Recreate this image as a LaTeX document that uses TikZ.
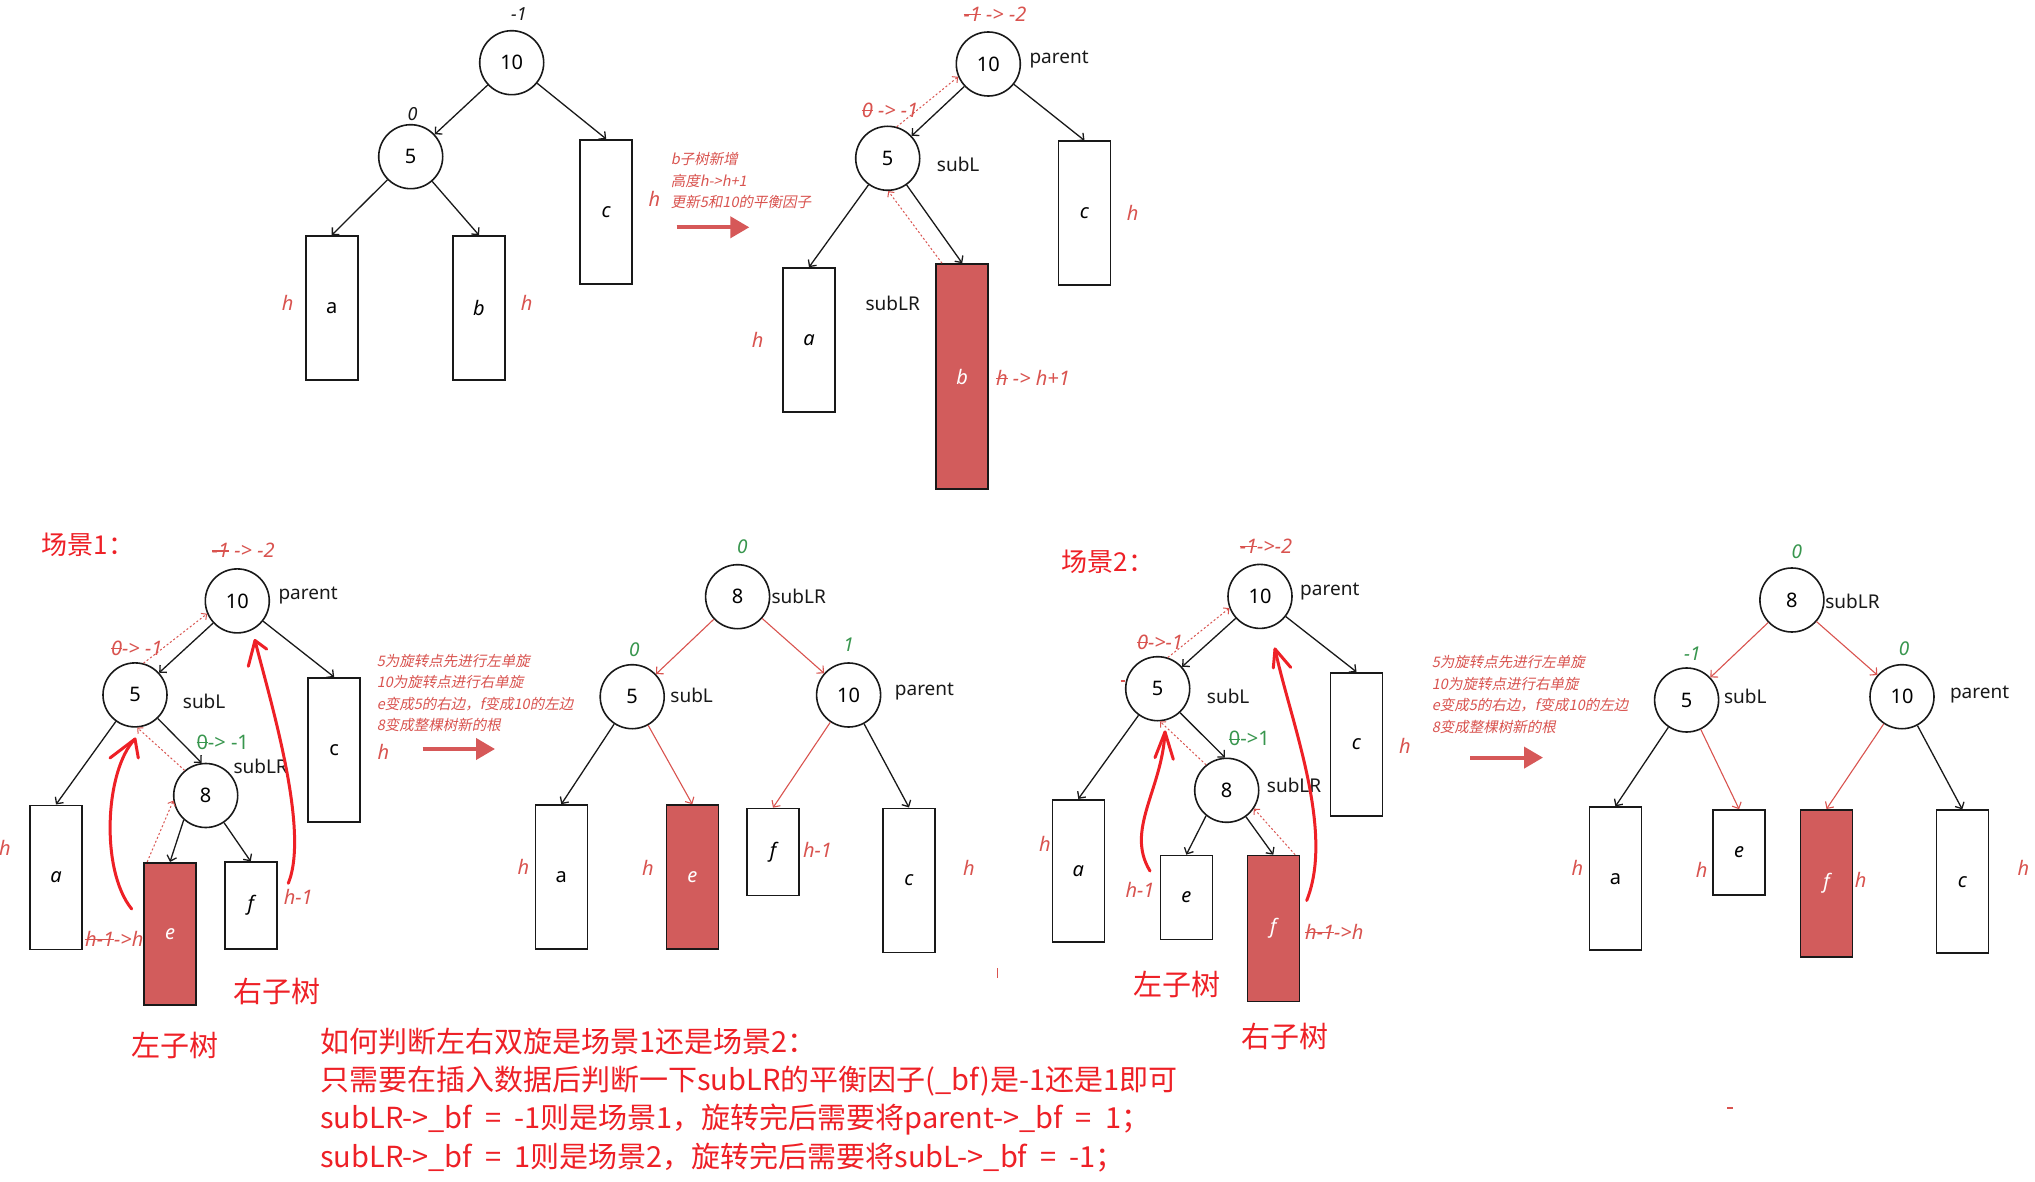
\documentclass[tikz,border=0pt]{standalone}
\usepackage{fontspec}
\setmainfont{Noto Sans}
\newfontfamily\cjk{Noto Sans CJK SC}
\newfontfamily\cjkit{Noto Sans CJK SC}[FakeSlant=0.2]
\usetikzlibrary{arrows.meta}
\newsavebox\strkbox
\newcommand\strk[1]{\sbox\strkbox{#1}\rlap{\raisebox{0.3em}{\rule{\wd\strkbox}{1.1pt}}}\usebox\strkbox}
\newcommand\eqsp{\hspace{0.45em}=\hspace{0.45em}}
\definecolor{annred}{RGB}{217,83,79}
\definecolor{handred}{RGB}{238,32,38}
\definecolor{boxred}{RGB}{210,92,92}
\definecolor{arrred}{RGB}{214,88,88}
\definecolor{bfgreen}{RGB}{56,150,78}
\definecolor{ink}{RGB}{25,25,25}
\newcommand\fs[1]{\fontsize{#1}{#1}\selectfont}
\tikzset{
  circ/.style={circle, draw=ink, line width=1.6pt, minimum size=64pt, inner sep=0pt, font=\fs{20}},
  bx/.style={rectangle, draw=ink, line width=1.6pt, inner sep=0pt, minimum width=52pt, font=\fs{20}\itshape},
  rbx/.style={bx, fill=boxred, text=white},
  tall/.style={minimum height=144pt},
  conn/.style={draw=ink, line width=1.3pt, -{Straight Barb[length=5pt,width=10pt]}},
  rconn/.style={draw=annred, line width=1.1pt, -{Straight Barb[length=5pt,width=10pt]}},
  dotarr/.style={draw=annred, line width=1pt, dash pattern=on 2pt off 2.2pt, -{Straight Barb[length=4pt,width=8pt]}},
  handarr/.style={draw=handred, line width=3pt, line cap=round, line join=round},
  bigarrow/.style={draw=arrred, line width=4pt, -{Triangle[length=19pt,width=21pt]}},
  role/.style={font=\fs{19}, text=ink, anchor=west, inner sep=0pt},
  hl/.style={font=\fs{20}\itshape, text=annred, inner sep=0pt},
  ann/.style={font=\fs{20}\itshape, text=annred, inner sep=0pt},
  blk/.style={font=\fs{18}\itshape, text=ink, inner sep=0pt},
  bfv/.style={font=\fs{19}\bfseries\itshape, text=bfgreen, inner sep=0pt},
  bfu/.style={font=\fs{20}\bfseries, text=bfgreen, inner sep=0pt},
  notetxt/.style={font=\cjkit\fontsize{14.5}{21.5}\selectfont, text=annred, align=left, anchor=north west, inner sep=0pt},
  bigtxt/.style={font=\cjk\fs{29}, text=handred, inner sep=0pt},
  scenetxt/.style={font=\cjk\fs{26}, text=handred, inner sep=0pt, anchor=west},
}
\begin{document}
\begin{tikzpicture}[x=1pt,y=-1pt]
\useasboundingbox (0,0) rectangle (2035,1182);
\fill[white] (0,0) rectangle (2035,1182);

% ===== top left tree =====
\node[circ] (t10) at (511.7,62.7) {10};
\node[circ] (t5) at (410.7,156.7) {5};
\node[bx,tall,font=\fs{20}] (ta) at (331.7,308) {a};
\node[bx,tall] (tb) at (479,308) {b};
\node[bx,tall] (tc) at (606.2,211.8) {c};
\node[blk] (tbf10) at (519,14) {-1};
\node[blk] (tbf5) at (412.7,114) {0};
\node[hl] (th1) at (287.7,303.3) {h};
\node[hl] (th2) at (526.7,303.3) {h};
\node[hl] (th3) at (654.3,199.3) {h};
\draw[conn] (t10) -- (t5);
\draw[conn] (t10) -- (tc.north);
\draw[conn] (t5) -- (ta.north);
\draw[conn] (t5) -- (tb.north);

% ===== top right tree =====
\node[circ] (r10) at (988.3,64) {10};
\node[circ] (r5) at (887.7,158.3) {5};
\node[bx,tall] (ra) at (809,340) {a};
\node[rbx,minimum height=225pt] (rb) at (962.2,376.5) {b};
\node[bx,tall] (rc) at (1084.5,213.3) {c};
\node[ann] (rbf10) at (995,14) {\strk{-1} -> -2};
\node[role] (rpar) at (1029.3,59.3) {parent};
\node[ann] (rbf5) at (890,110) {\strk{0} -> -1};
\node[role] (rsubl) at (936.7,164) {subL};
\node[font=\fs{19},text=ink,inner sep=0pt] (rsublr) at (892.7,303.3) {subLR};
\node[hl] (rh1) at (757.7,340) {h};
\node[hl,anchor=west] (rh2) at (996,377.7) {\strk{h} -> h+1};
\node[hl] (rh3) at (1132.7,213.3) {h};
\node[notetxt] (rnote) at (670.7,152.5) {b子树新增\\高度h->h+1\\更新5和10的平衡因子};
\coordinate (ra1) at (676.7,227.3);
\coordinate (ra2) at (749.3,227.3);
\draw[bigarrow] (ra1) -- (ra2);
\draw[conn] (r10) -- (r5);
\draw[conn] (r10) -- (rc.north);
\draw[conn] (r5) -- (ra.north);
\draw[conn] (r5) -- (rb.north);
\draw[dotarr] (r5.74) -- (r10.203);
\draw[dotarr] ([xshift=6.6pt]rb.north west) -- (r5.-89);

% ===== scene 1 =====
\node[scenetxt] (s1t) at (41.7,544.8) {场景1：};
\node[circ] (s10) at (237.3,600.9) {10};
\node[circ] (s5) at (135,694.9) {5};
\node[circ] (s8) at (205.7,795.5) {8};
\node[bx,tall] (sa) at (56,877.3) {a};
\node[rbx,minimum height=142pt] (se) at (170,933.7) {e};
\node[bx,minimum height=87pt] (sf) at (250.7,905.7) {f};
\node[bx,tall,font=\fs{20}] (sc) at (334.2,749.9) {c};
\node[ann] (sbf10) at (243.3,550.3) {\strk{-1} -> -2};
\node[role] (spar) at (278.3,595.1) {parent};
\node[ann] (sbf5) at (136.7,648.1) {\strk{0}-> -1};
\node[role] (ssubl) at (182.7,701.8) {subL};
\node[bfu] (sbf8) at (222.7,742.1) {\strk{0}-> -1};
\node[role] (ssublr) at (233.3,766.2) {subLR};
\node[hl] (sh1) at (5,848) {h};
\node[hl,anchor=west] (sh2) at (85,938.4) {\strk{h-1}->h};
\node[hl] (sh3) at (298.3,897) {h-1};
\node[bigtxt] (sright) at (276.7,991.8) {右子树};
\node[bigtxt] (sleft) at (175,1045.1) {左子树};
\node[notetxt] (snote) at (376.7,653.9) {5为旋转点先进行左单旋\\10为旋转点进行右单旋\\e变成5的右边，f变成10的左边\\8变成整棵树新的根};
\node[hl] (sh4) at (383.3,751.4) {h};
\coordinate (sa1) at (422.7,749);
\coordinate (sa2) at (495,749);
\draw[bigarrow] (sa1) -- (sa2);
\draw[conn] (s10) -- (s5);
\draw[conn] (s10) -- (sc.north);
\draw[conn] (s5) -- (sa.north);
\draw[conn] (s5.-46) -- (s8.97);
\draw[conn] (s8.228) -- (se.north);
\draw[conn] (s8.-56) -- (sf.north);
\draw[dotarr] (s5.75) -- (s10.203);
\draw[dotarr] (s8.130) -- (s5.-86);
\draw[dotarr] ([xshift=4pt]se.north west) -- (s8.189);
\coordinate (h1s) at (131.7,909);
\coordinate (h1t) at (135,739);
\draw[handarr] (h1s) .. controls (100,870) and (105,770) .. (h1t);
\draw[handarr] ([shift={(-25,19)}]h1t) -- (h1t) -- ([shift={(3.3,19)}]h1t);
\coordinate (h2s) at (288.3,883.3);
\coordinate (h2t) at (255,640.5);
\draw[handarr] (h2s) .. controls (310,830) and (270,700) .. (h2t);
\draw[handarr] ([shift={(-6.7,25.8)}]h2t) -- (h2t) -- ([shift={(11.7,8.6)}]h2t);

% ===== scene 1 result =====
\node[circ] (u8) at (737.6,596.7) {8};
\node[circ] (u5) at (632.2,696.7) {5};
\node[circ] (u10) at (848.6,695) {10};
\node[bx,tall,font=\fs{20}] (ua) at (561.3,877) {a};
\node[rbx,tall] (ue) at (692.3,877) {e};
\node[bx,minimum height=87pt] (uf) at (773,852) {f};
\node[bx,tall] (uc) at (909,880.3) {c};
\node[bfv] (ubf8) at (742.4,546.7) {0};
\node[bfv] (ubf5) at (634.3,650) {0};
\node[bfv] (ubf10) at (848.6,645) {1};
\node[role] (usublr) at (771.4,596.7) {subLR};
\node[role] (usubl) at (670.2,695) {subL};
\node[role] (upar) at (894.7,691.7) {parent};
\node[hl] (uh1) at (523.3,866.7) {h};
\node[hl] (uh2) at (647.8,868.3) {h};
\node[hl,anchor=west] (uh3) at (802.9,850) {h-1};
\node[hl] (uh4) at (969,868.3) {h};
\draw[rconn] (u8) -- (u5);
\draw[rconn] (u8) -- (u10);
\draw[conn] (u5) -- (ua.north);
\draw[rconn] (u5) -- (ue.north);
\draw[rconn] (u10) -- (uf.north);
\draw[conn] (u10) -- (uc.north);

% ===== scene 2 =====
\node[scenetxt] (s2t) at (1061.7,561.3) {场景2：};
\node[circ] (v10) at (1260,596.4) {10};
\node[circ] (v5) at (1157.7,688.7) {5};
\node[circ] (v8) at (1226.7,790.3) {8};
\node[bx,minimum height=142pt] (va) at (1078.3,870.7) {a};
\node[bx,minimum height=84pt] (ve) at (1186.3,897.5) {e};
\node[rbx,minimum height=146pt] (vf) at (1273.3,928.5) {f};
\node[bx,minimum height=143pt] (vc) at (1356.5,744.2) {c};
\node[ann] (vbf10) at (1266,545.8) {\strk{-1}->-2};
\node[role] (vpar) at (1300,591.3) {parent};
\node[ann] (vbf5) at (1160,642.2) {\strk{0}->-1};
\node[role] (vsubl) at (1206.7,696.3) {subL};
\node[bfu] (vbf8) at (1249.3,738.7) {\strk{0}->1};
\node[role] (vsublr) at (1266.7,785.2) {subLR};
\node[hl] (vh1) at (1045,843.7) {h};
\node[hl] (vh2) at (1140,890.2) {h-1};
\node[hl,anchor=west] (vh3) at (1305,931.5) {\strk{h-1}->h};
\node[hl] (vh4) at (1405,745.6) {h};
\node[bigtxt] (vleft) at (1177.3,984.9) {左子树};
\node[bigtxt] (vright) at (1285,1036.5) {右子树};
\node[notetxt] (vnote) at (1431.7,655.6) {5为旋转点先进行左单旋\\10为旋转点进行右单旋\\e变成5的右边，f变成10的左边\\8变成整棵树新的根};
\coordinate (va1) at (1470,757.6);
\coordinate (va2) at (1543,757.6);
\draw[bigarrow] (va1) -- (va2);
\draw[conn] (v10) -- (v5);
\draw[conn] (v10) -- (vc.north);
\draw[conn] (v5) -- (va.north);
\draw[conn] (v5.-47) -- (v8.93);
\draw[conn] (v8.231) -- (ve.north);
\draw[conn] (v8.-54) -- (vf.north);
\draw[dotarr] (v5.72) -- (v10.201);
\draw[dotarr] (v8.129) -- (v5.-86);
\draw[dotarr] ([xshift=-5pt]vf.north east) -- (v8.-34);
\coordinate (h3s) at (1150,871);
\coordinate (h3t) at (1165,732);
\draw[handarr] (h3s) .. controls (1125,830) and (1162,790) .. (h3t);
\draw[handarr] ([shift={(-10,25.6)}]h3t) -- (h3t) -- ([shift={(8.3,27.3)}]h3t);
\coordinate (h4s) at (1306.7,900.5);
\coordinate (h4t) at (1275,649);
\draw[handarr] (h4s) .. controls (1335,830) and (1290,720) .. (h4t);
\draw[handarr] ([shift={(-1.7,19)}]h4t) -- (h4t) -- ([shift={(15.7,18.4)}]h4t);
\draw[annred,line width=1.2pt] (1120.5,681) -- (1124.5,681);

% ===== scene 2 result =====
\node[circ] (w8) at (1791.9,600) {8};
\node[circ] (w5) at (1686.6,700) {5};
\node[circ] (w10) at (1902,696.7) {10};
\node[bx,minimum height=143pt,font=\fs{20}] (wa) at (1615.4,878.7) {a};
\node[bx,minimum height=85pt] (we) at (1739.1,852.5) {e};
\node[rbx,minimum height=147pt] (wf) at (1826.5,883.3) {f};
\node[bx,minimum height=143pt] (wc) at (1962.3,881.7) {c};
\node[bfv] (wbf8) at (1796.8,551.7) {0};
\node[bfv] (wbf5) at (1692.3,653.3) {-1};
\node[bfv] (wbf10) at (1904,648.3) {0};
\node[role] (wsublr) at (1825.1,601.7) {subLR};
\node[role] (wsubl) at (1723.9,696.7) {subL};
\node[role] (wpar) at (1949.8,695) {parent};
\node[hl] (wh1) at (1577.3,868.3) {h};
\node[hl] (wh2) at (1701.6,870) {h};
\node[hl] (wh3) at (1860.7,880) {h};
\node[hl] (wh4) at (2023.5,868.3) {h};
\draw[rconn] (w8) -- (w5);
\draw[rconn] (w8) -- (w10);
\draw[conn] (w5) -- (wa.north);
\draw[rconn] (w5) -- (we.north);
\draw[rconn] (w10) -- (wf.north);
\draw[conn] (w10) -- (wc.north);

% ===== bottom text =====
\node[font=\cjk\fontsize{29}{38.3}\selectfont, text=handred, align=left, anchor=north west, inner sep=0pt] (qtext) at (320,1027.5)
{如何判断左右双旋是场景1还是场景2：\\只需要在插入数据后判断一下subLR的平衡因子(\_bf)是-1还是1即可\\subLR->\_bf\eqsp-1则是场景1，旋转完后需要将parent->\_bf\eqsp1；\\subLR->\_bf\eqsp1则是场景2，旋转完后需要将subL->\_bf\eqsp-1；};

% stray marks
\draw[annred,line width=1.5pt] (997.7,968) -- (997.7,978);
\draw[annred,line width=1.2pt] (1727,1108) -- (1733,1108);
\end{tikzpicture}
\end{document}
